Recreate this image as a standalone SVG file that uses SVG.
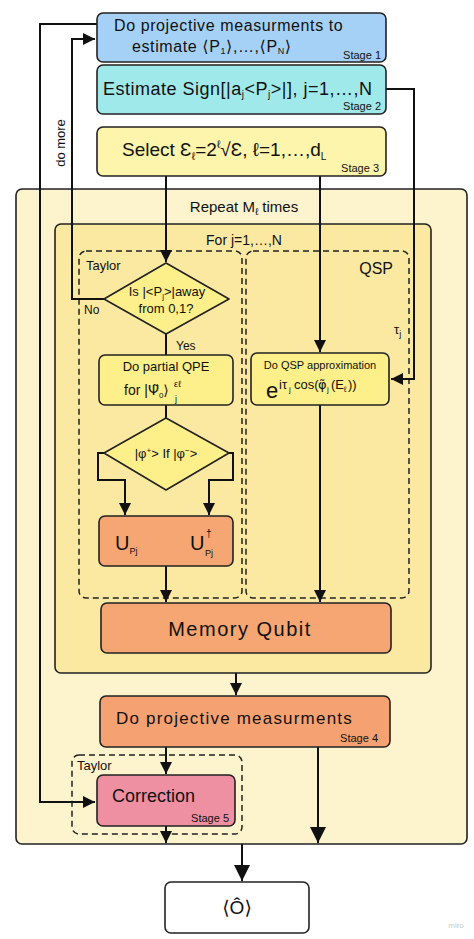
<svg xmlns="http://www.w3.org/2000/svg" width="474" height="939" viewBox="0 0 474 939">
<style>
.box{stroke:#222;stroke-width:1.6}
.dash{fill:none;stroke:#222;stroke-width:1.5;stroke-dasharray:6,4}
.t{font-family:"Liberation Sans","DejaVu Sans",sans-serif;fill:#111}
.dv{font-family:"DejaVu Sans",sans-serif}
.st{font-family:"Liberation Sans","DejaVu Sans",sans-serif;font-size:11px;fill:#111}
.c{fill:none;stroke:#111;stroke-width:2}
</style>
<defs>
<marker id="ah" markerUnits="userSpaceOnUse" markerWidth="12" markerHeight="12" refX="12" refY="6" orient="auto">
<path d="M0,0 L12,6 L0,12 z" fill="#111"/>
</marker>
<marker id="ahb" markerUnits="userSpaceOnUse" markerWidth="16" markerHeight="16" refX="16" refY="8" orient="auto">
<path d="M0,0 L16,8 L0,16 z" fill="#111"/>
</marker>
</defs>
<rect width="474" height="939" fill="#ffffff"/>

<g id="repeat">
<rect class="box" x="16" y="189" width="451" height="655" rx="6" fill="#fdf3cc"/>
<text class="t" x="244" y="212" font-size="15" text-anchor="middle">Repeat M<tspan font-size="10" dy="3">ℓ</tspan><tspan dy="-3"> times</tspan></text>
</g>
<g id="forj">
<rect class="box" x="55" y="224" width="376" height="449" rx="6" fill="#fbe9a2"/>
<text class="t" x="244" y="245" font-size="14" text-anchor="middle">For j=1,…,N</text>
</g>
<g id="taylor1">
<rect class="dash" x="79" y="251" width="163" height="347" rx="7"/>
<text class="t" x="86" y="270" font-size="13">Taylor</text>
</g>
<g id="qsp">
<rect class="dash" x="246" y="251" width="163" height="347" rx="7"/>
<text class="t" x="393" y="274" font-size="16" text-anchor="end">QSP</text>
</g>
<g id="taylor2">
<rect class="dash" x="72" y="755" width="170" height="79" rx="7"/>
<text class="t" x="77" y="770" font-size="13">Taylor</text>
</g>

<g id="connectors">
<path class="c" d="M97,24 H40 V802 H95" marker-end="url(#ah)"/>
<path class="c" d="M104,299 H72 V39 H95" marker-end="url(#ah)"/>
<path class="c" d="M386,89 H414 V379 H391" marker-end="url(#ah)"/>
<path class="c" d="M166,176 V262" marker-end="url(#ah)"/>
<path class="c" d="M320,176 V352" marker-end="url(#ah)"/>
<path class="c" d="M166,334 V355"/>
<path class="c" d="M166,405 V418"/>
<path class="c" d="M105,453 H98 V480 H125 V515" marker-end="url(#ah)"/>
<path class="c" d="M227,453 H233 V480 H209 V515" marker-end="url(#ah)"/>
<path class="c" d="M166,516 V602" marker-end="url(#ah)"/>
<path class="c" d="M320,405 V602" marker-end="url(#ah)"/>
<path class="c" d="M236,673 V695" marker-end="url(#ah)"/>
<path class="c" d="M166,747 V774" marker-end="url(#ah)"/>
<path class="c" d="M166,826 V843" marker-end="url(#ah)"/>
<path class="c" d="M318,747 V843" marker-end="url(#ahb)"/>
<path class="c" d="M242,844 V881" marker-end="url(#ahb)"/>
<text class="t" x="0" y="0" font-size="13" text-anchor="middle" transform="translate(65,143) rotate(-90)">do more</text>
<text class="t" x="84" y="314" font-size="12">No</text>
<text class="t" x="176" y="350" font-size="12">Yes</text>
<text class="t" x="394" y="334" font-size="13">τ<tspan font-size="9" dy="3">j</tspan></text>
</g>

<g id="stage1">
<rect class="box" x="97" y="13" width="289" height="49" rx="6" fill="#a6d1f6"/>
<text class="t" x="114" y="31" font-size="16" letter-spacing="0.6">Do projective measurments  to</text>
<text class="t" x="132" y="52" font-size="16" letter-spacing="0.6">estimate ⟨P<tspan font-size="9" dy="2">1</tspan><tspan dy="-2">⟩,…,⟨P</tspan><tspan font-size="9" dy="2">N</tspan><tspan dy="-2">⟩</tspan></text>
<text class="st" x="381" y="59" text-anchor="end">Stage 1</text>
</g>
<g id="stage2">
<rect class="box" x="97" y="65" width="289" height="49" rx="6" fill="#a0e9ea"/>
<text class="t" x="103" y="95" font-size="18" letter-spacing="0.5">Estimate  Sign[|a<tspan font-size="10" dy="3">j</tspan><tspan dy="-3">&lt;P</tspan><tspan font-size="10" dy="3">j</tspan><tspan dy="-3">&gt;|], j=1,…,N</tspan></text>
<text class="st" x="381" y="110" text-anchor="end">Stage 2</text>
</g>
<g id="stage3">
<rect class="box" x="97" y="127" width="289" height="49" rx="6" fill="#fdf5ab"/>
<text class="t" x="122" y="156" font-size="19">Select Ɛ<tspan font-size="11" dy="4">ℓ</tspan><tspan dy="-4">=2</tspan><tspan font-size="11" dy="-8">ℓ</tspan><tspan dy="8">√Ɛ, ℓ=1,…,d</tspan><tspan font-size="10" dy="4">L</tspan></text>
<text class="st" x="379" y="172" text-anchor="end">Stage 3</text>
</g>

<g id="diamond1">
<polygon class="box" points="166,263 229,299 166,334 104,299" fill="#fdf08a" stroke-linejoin="round"/>
<text class="t" x="167" y="296" font-size="13" text-anchor="middle">Is |&lt;P<tspan font-size="8" dy="3">j</tspan><tspan dy="-3">&gt;|away</tspan></text>
<text class="t" x="166" y="313" font-size="13" text-anchor="middle">from 0,1?</text>
</g>
<g id="qpe">
<rect class="box" x="99" y="355" width="134" height="50" rx="6" fill="#fdf08a"/>
<text class="t" x="166" y="371" font-size="13" text-anchor="middle">Do partial QPE</text>
<text class="t" x="124" y="395" font-size="14">for |<tspan class="dv">Ψ̃</tspan><tspan font-size="8" dy="3">0</tspan><tspan dy="-3">⟩</tspan></text>
<text class="t" x="174" y="387" font-size="9">εℓ</text>
<text class="t" x="175" y="402" font-size="9">j</text>
</g>
<g id="qspbox">
<rect class="box" x="251" y="353" width="138" height="52" rx="6" fill="#fdf08a"/>
<text class="t" x="320" y="369" font-size="11" text-anchor="middle">Do QSP approximation</text>
<text class="t" x="266" y="398" font-size="22">e</text>
<text class="t" x="279" y="389" font-size="13">iτ</text>
<text class="t" x="289" y="392" font-size="8">j</text>
<text class="t" x="294" y="389" font-size="13">cos(</text>
<text class="t dv" x="318" y="389" font-size="13">φ̃</text>
<text class="t" x="327" y="392" font-size="8">j</text>
<text class="t" x="331" y="389" font-size="13">(E</text>
<text class="t" x="344" y="392" font-size="8">ℓ</text>
<text class="t" x="348" y="389" font-size="13">))</text>
</g>
<g id="diamond2">
<polygon class="box" points="166,418 229,453 166,490 104,453" fill="#fdf08a" stroke-linejoin="round"/>
<text class="t" x="166" y="458" font-size="13" text-anchor="middle">|φ<tspan font-size="8" dy="-5">+</tspan><tspan dy="5">&gt; If |φ</tspan><tspan font-size="8" dy="-5">−</tspan><tspan dy="5">&gt;</tspan></text>
</g>
<g id="ubox">
<rect class="box" x="99" y="516" width="134" height="50" rx="6" fill="#f5a672"/>
<text class="t" x="115" y="550" font-size="20">U<tspan font-size="9" dy="4">Pj</tspan></text>
<text class="t" x="190" y="550" font-size="20">U</text>
<text class="t" x="206" y="537" font-size="10">†</text>
<text class="t" x="205" y="556" font-size="9">Pj</text>
</g>
<g id="memory">
<rect class="box" x="101" y="603" width="290" height="50" rx="6" fill="#f5a672"/>
<text class="t" x="240" y="636" font-size="20" letter-spacing="1.5" text-anchor="middle">Memory  Qubit</text>
</g>
<g id="stage4">
<rect class="box" x="100" y="696" width="290" height="51" rx="6" fill="#f6a172"/>
<text class="t" x="116" y="724" font-size="17" letter-spacing="1.2">Do projective  measurments</text>
<text class="st" x="378" y="742" text-anchor="end">Stage 4</text>
</g>
<g id="stage5">
<rect class="box" x="97" y="775" width="138" height="51" rx="6" fill="#ee90a2"/>
<text class="t" x="112" y="802" font-size="18">Correction</text>
<text class="st" x="229" y="822" text-anchor="end">Stage 5</text>
</g>
<g id="output">
<rect class="box" x="165" y="882" width="144" height="51" rx="6" fill="#ffffff"/>
<text class="t" x="237" y="914" font-size="19" text-anchor="middle">⟨Ô⟩</text>
</g>
<text class="t" x="456" y="928" font-size="8" fill="#cccccc" style="fill:#cccccc" text-anchor="middle">miro</text>
</svg>
